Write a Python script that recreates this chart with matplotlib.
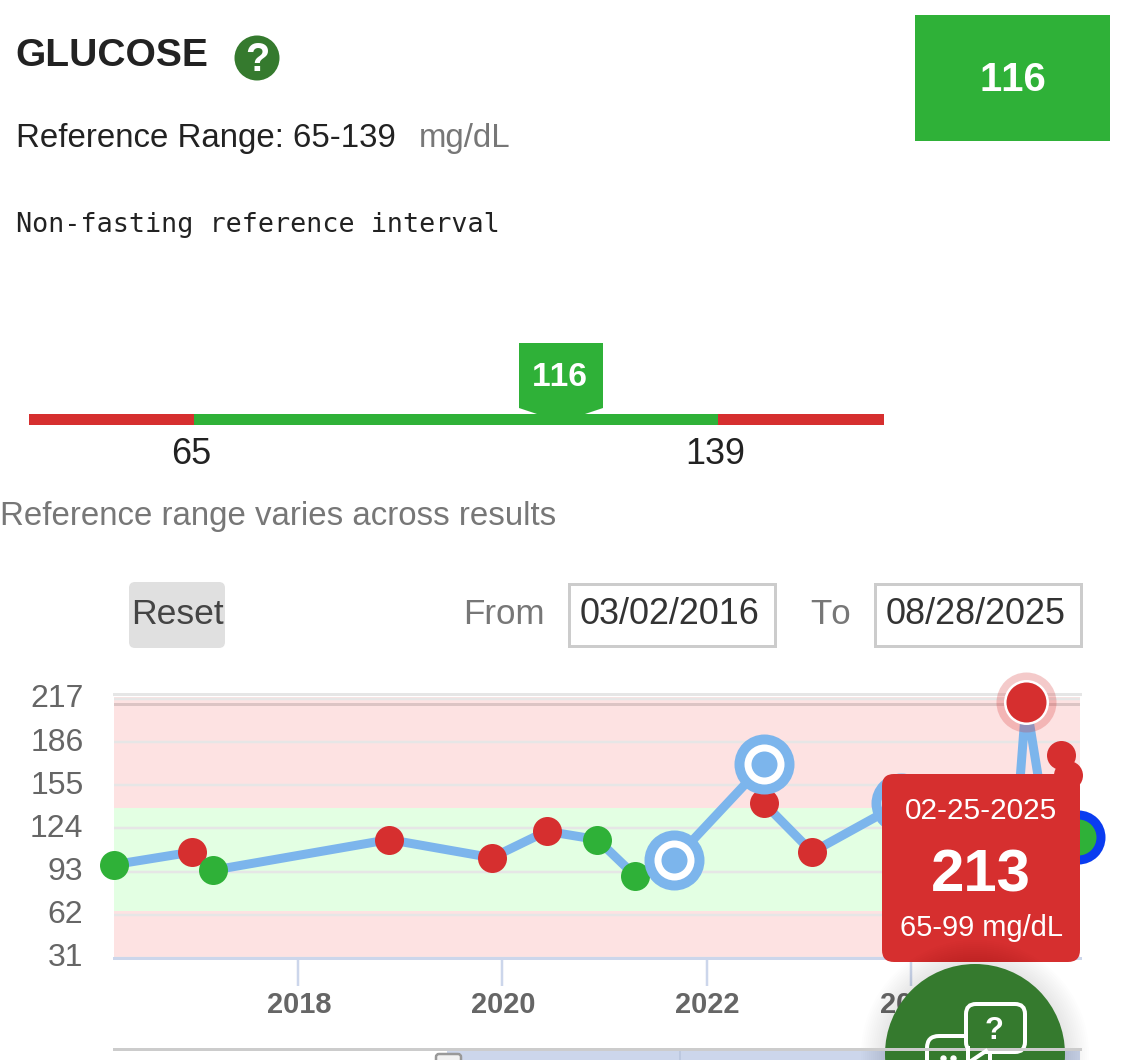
import pandas as pd
import matplotlib
matplotlib.use('Agg')
import matplotlib.pyplot as plt
import matplotlib.dates as mdates
from matplotlib.patches import Circle, FancyBboxPatch, Polygon, Rectangle
from matplotlib.transforms import ScaledTranslation

plt.rcParams['font.family'] = ['Liberation Sans', 'DejaVu Sans']
plt.rcParams['text.kerning_factor'] = 6

# line series (the two points either side of the peak sit behind the tooltip)
dates = ['2016-03-13', '2016-12-16', '2017-03-02', '2018-11-22', '2019-11-25',
         '2020-06-07', '2020-12-06', '2021-04-20', '2021-09-05', '2022-07-24',
         '2022-07-25', '2023-01-13', '2023-11-25', '2025-01-10', '2025-02-16',
         '2025-05-05', '2025-08-20']
values = [98, 107, 94, 116, 103, 122, 116, 90, 101, 170, 142, 107, 142, 118, 215, 118, 118]
colors = ['g', 'r', 'g', 'r', 'r', 'r', 'g', 'g', 'b', 'b', 'r', 'r', 'b', 'g', 'r', 'g', 'g']

# red results beside the peak, not on the line
extra_dates = ['2025-06-22', '2025-07-16']
extra_values = [177, 162]

hover_dates = ['2021-09-05', '2022-07-24', '2023-11-25']
hover_values = [101, 170, 142]

peak_date = '2025-02-16'
peak_value = 215
peak_label = '213'
plot_line = 213
last_date = '2025-08-20'
last_value = 118
axis_start = '2016-03-13'
axis_end = '2025-08-28'

y_ticks = [31, 62, 93, 124, 155, 186, 217]
x_years = [2018, 2020, 2022, 2024]
low_limit = 65
high_limit = 139
y_min = 31
y_max = 220.5
gauge_min = 41.7
gauge_max = 162.4
current = 116

RED = '#d62f2f'
GREEN = '#2fb138'
BLUE = '#7cb5ec'
DARK_GREEN = '#357a2e'
GREY = '#666666'
W, H = 1125, 1060
PX = 0.72  # points per pixel at dpi 100


def px_axes(fig, left, top, right, bottom, **kw):
    return fig.add_axes([left / W, 1 - bottom / H, (right - left) / W, (bottom - top) / H], **kw)


def dot(ax, x, y, radius, color, z, alpha=1):
    ax.plot(x, y, 'o', ms=2 * radius * PX, mfc=color, mew=0, alpha=alpha, zorder=z, clip_on=False)


fig = plt.figure(figsize=(W / 100, H / 100), dpi=100, facecolor='white')

# trend chart
ax = px_axes(fig, 114, 694, 1080, 958)
x = pd.to_datetime(dates)
ax.set_xlim(pd.Timestamp(axis_start), pd.Timestamp(axis_end))
ax.set_ylim(y_min, y_max)
ax.axhspan(y_min, low_limit, color='#fde2e2', lw=0, zorder=0)
ax.axhspan(low_limit, high_limit, color='#e3ffe3', lw=0, zorder=0)
ax.axhspan(high_limit, y_max - 2, color='#fde2e2', lw=0, zorder=0)
ax.set_yticks(y_ticks[:-1])
ax.grid(axis='y', color='#e6e6e6', lw=2.5 * PX, zorder=1)
ax.axhline(plot_line, color='#dcc4c4', lw=3 * PX, zorder=1)
ax.axhline(y_max, color='#e6e6e6', lw=3 * PX, zorder=1, clip_on=False)

ax.set_yticks(y_ticks)
ax.set_xticks([pd.Timestamp(year=y, month=1, day=1) for y in x_years])
ax.xaxis.set_major_formatter(mdates.DateFormatter('%Y'))
ax.tick_params(axis='y', length=0, pad=22, labelsize=32 * PX, labelcolor=GREY)
ax.tick_params(axis='x', length=28 * PX, width=2.5 * PX, color='#ccd6eb', pad=5 * PX,
               labelsize=29 * PX, labelcolor=GREY)
for lab in ax.get_xticklabels():
    lab.set_fontweight('bold')
    lab.set_transform(lab.get_transform() + ScaledTranslation(1 / 100, 0, fig.dpi_scale_trans))
shift = ScaledTranslation(0, 3 / 100, fig.dpi_scale_trans)
for lab in ax.get_yticklabels():
    lab.set_transform(lab.get_transform() + shift)
for side in ['top', 'left', 'right']:
    ax.spines[side].set_visible(False)
ax.spines['bottom'].set_color('#ccd6eb')
ax.spines['bottom'].set_linewidth(3 * PX)

ax.plot(x, values, color=BLUE, lw=9 * PX, zorder=3, clip_on=False, solid_joinstyle='round')
marker_col = {'g': GREEN, 'r': RED}
for d, v, c in zip(x, values, colors):
    if c != 'b':
        dot(ax, d, v, 14.5, marker_col[c], 4)
dot(ax, pd.to_datetime(extra_dates), extra_values, 14.5, RED, 4)
for d, v in zip(pd.to_datetime(hover_dates), hover_values):
    dot(ax, d, v, 30, BLUE, 5)
    dot(ax, d, v, 20, 'white', 6)
    dot(ax, d, v, 13, BLUE, 7)
peak = pd.Timestamp(peak_date)
dot(ax, peak, peak_value, 30, RED, 5, alpha=0.25)
dot(ax, peak, peak_value, 22.5, 'white', 6)
dot(ax, peak, peak_value, 20, RED, 7)
last = pd.Timestamp(last_date)
dot(ax, last, last_value, 27, '#0a3cf0', 5)
dot(ax, last, last_value, 18, GREEN, 6)

# range gauge
gauge = px_axes(fig, 29, 414, 884, 425)
gauge.barh(0, low_limit - gauge_min, left=gauge_min, height=1, color=RED, lw=0)
gauge.barh(0, high_limit - low_limit, left=low_limit, height=1, color=GREEN, lw=0)
gauge.barh(0, gauge_max - high_limit, left=high_limit, height=1, color=RED, lw=0)
gauge.set_xlim(gauge_min, gauge_max)
gauge.set_ylim(-0.5, 0.5)
gauge.axis('off')

# everything else is page furniture, laid out in pixels
ui = fig.add_axes([0, 0, 1, 1], zorder=10)
ui.set_xlim(0, W)
ui.set_ylim(H, 0)
ui.axis('off')


def txt(px, py, s, size, color='#222222', ha='left', va='center', **kw):
    return ui.text(px, py, s, fontsize=size * PX, color=color, ha=ha, va=va, **kw)


def rbox(l, t, r, b, rad, **kw):
    ui.add_patch(FancyBboxPatch((l, t), r - l, b - t, boxstyle=f'round,pad=0,rounding_size={rad}', **kw))


txt(15, 66, 'GLUCOSE', 39, va='baseline', fontweight='bold')
ui.add_patch(Circle((257, 58), 22.5, color=DARK_GREEN, lw=0))
txt(257, 60, '?', 40, color='white', ha='center', fontweight='bold')
txt(16, 147, 'Reference Range: 65-139', 33, va='baseline')
txt(419, 147, 'mg/dL', 33, color='#777777', va='baseline')
txt(16, 232, 'Non-fasting reference interval', 26.7, color='#222222', va='baseline',
    family='DejaVu Sans Mono')

ui.add_patch(Rectangle((915, 15), 195, 126, color=GREEN, lw=0))
txt(1013, 80, str(current), 40, color='white', ha='center', fontweight='bold')

ui.add_patch(Polygon([(519, 343), (603, 343), (603, 408), (585, 414), (537, 414), (519, 408)],
                     closed=True, color=GREEN, lw=0))
txt(560, 377, str(current), 33.6, color='white', ha='center', fontweight='bold')
txt(191, 454, str(low_limit), 36, ha='center')
txt(715, 454, str(high_limit), 36, ha='center')
txt(0, 525, 'Reference range varies across results', 33, color='#777777', va='baseline')

rbox(129, 582, 225, 648, 6, fc='#e0e0e0', ec='none')
txt(177, 614, 'Reset', 35.5, color='#444444', ha='center')
txt(463, 614, 'From', 35, color='#777777')
txt(810, 614, 'To', 35, color='#777777')
for l, r, s in [(569, 775, '03/02/2016'), (875, 1081, '08/28/2025')]:
    ui.add_patch(Rectangle((l, 584), r - l, 62, fc='white', ec='#cccccc', lw=3 * PX))
    txt((l + r) / 2 - 2, 614, s, 36, color='#333333', ha='center')

# navigator strip at the bottom edge
ui.add_patch(Rectangle((447, 1049), 633, 11, color='#ccd6eb', lw=0))
ui.plot([680, 680], [1050, 1060], color='#bcc8df', lw=2 * PX)
ui.plot([114, 1080], [1049, 1049], color='#cccccc', lw=3 * PX)
rbox(436, 1054, 461, 1075, 3, fc='#f2f2f2', ec='#999999', lw=2.5 * PX)

# tooltip
rbox(882, 774, 1080, 962, 12, fc=RED, ec='none')
txt(981, 811, '02-25-2025', 29.7, color='white', ha='center')
txt(981, 892, peak_label, 60, color='white', ha='center', va='baseline', fontweight='bold')
txt(981, 936, '65-99 mg/dL', 29, color='white', ha='center', va='baseline')

# chat button with a soft shadow
for grow in range(2, 26, 2):
    ui.add_patch(Circle((975, 1054), 90 + grow, color='black', alpha=0.008, lw=0))
ui.add_patch(Circle((975, 1054), 90, color=DARK_GREEN, lw=0))
rbox(927, 1036, 990, 1085, 12, fc=DARK_GREEN, ec='white', lw=4 * PX)
rbox(966, 1004, 1025, 1052, 10, fc=DARK_GREEN, ec='white', lw=4 * PX)
ui.add_patch(Polygon([(970, 1049), (986, 1049), (968, 1062)], closed=True, fc=DARK_GREEN, ec='none'))
ui.plot([986, 968, 968], [1051, 1063, 1048], color='white', lw=4 * PX)
txt(994, 1031, '?', 31, color='white', ha='center', fontweight='bold')
ui.plot([943, 953], [1058, 1058], ls='none', marker='o', ms=5 * PX, color='white')

fig.savefig('out.png', dpi=100)
